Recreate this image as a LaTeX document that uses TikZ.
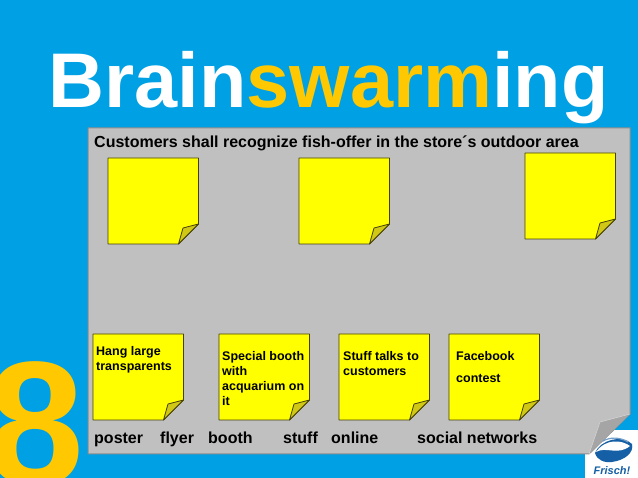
\documentclass[tikz,border=0pt]{standalone}
\usepackage{fontspec}
\setmainfont{Liberation Sans}
\usetikzlibrary{positioning}
\definecolor{slideblue}{RGB}{0,160,228}
\definecolor{titleorange}{RGB}{255,200,0}
\definecolor{panelgray}{RGB}{192,192,192}
\definecolor{paneledge}{RGB}{140,140,140}
\definecolor{foldgray}{RGB}{165,165,165}
\definecolor{notefill}{RGB}{255,255,0}
\definecolor{noteedge}{RGB}{70,65,10}
\definecolor{notefold}{RGB}{208,200,20}
\definecolor{logoblue}{RGB}{20,95,165}
\tikzset{
	title/.style = {anchor=base west, inner sep=0pt, font=\bfseries\fontsize{77.5}{77.5}\selectfont},
	headline/.style = {anchor=base west, inner sep=0pt, font=\bfseries\fontsize{16}{18}\selectfont, text=black},
	channel/.style = {anchor=base west, inner sep=0pt, font=\bfseries\fontsize{16}{18}\selectfont, text=black},
	notetext/.style = {anchor=north west, inner sep=0pt, align=left, font=\bfseries\fontsize{12.5}{15}\selectfont, text=black},
	notesheet/.style = {draw=noteedge, line width=0.9pt, fill=notefill, line join=round},
	noteflap/.style = {draw=noteedge, line width=0.8pt, fill=notefold, line join=round}
}
% one sticky note, top left corner at #1,#2
\newcommand{\stickynote}[2]{
	\draw [notesheet] (#1,#2) -- ++(90.5,0) -- ++(0,66) -- ++(-20,20) -- ++(-70.5,0) -- cycle;
	\draw [noteflap] (#1+70.5,#2+86) -- (#1+90.5,#2+66) -- (#1+75,#2+70) -- cycle;
}
\begin{document}
\begin{tikzpicture}[x=1pt,y=-1pt]
		\useasboundingbox (0,0) rectangle (638,478);
		\fill [slideblue] (0,0) rectangle (638,478);

		%title and number
		\begin{scope}
		\clip (0,0) rectangle (638,478);
		\node (number) [anchor=base west, inner sep=0pt, text=titleorange, font=\bfseries\fontsize{176}{176}\selectfont] at (-14,485) {8};
		\end{scope}
		\node (title) [title, text=white] at (48.5,108) {Brain\textcolor{titleorange}{swarm}ing};

		%panel with curled corner
		\fill [white] (585,430) rectangle (638,478);
		\draw [fill=panelgray, draw=paneledge, line width=1pt] (88,128) -- (630,128) -- (630,414) -- (589,454) -- (88,454) -- cycle;
		\fill [foldgray] (589,454) -- (630,414) -- (600,422) -- cycle;
		\draw [draw=panelgray!70!white, line width=0.6pt] (589,454) -- (600,422) -- (630,414);

		%logo
		\fill [logoblue] (595,453) .. controls (600,440) and (622,434) .. (632,444) .. controls (634,452) and (626,460) .. (612,462) .. controls (604,463) and (597,460) .. (595,453) -- cycle;
		\fill [white] (596,452) .. controls (606,446) and (618,456) .. (630,446) .. controls (622,440) and (606,438) .. (596,452) -- cycle;
		\draw [logoblue!60, line width=1.2pt] (603,441) .. controls (610,437) and (620,437) .. (628,442);
		\node (logo) [anchor=base, inner sep=0pt, text=logoblue, font=\bfseries\itshape\fontsize{11}{11}\selectfont] at (612,475) {Frisch!};

		\node (headline) [headline] at (94,148) {Customers shall recognize fish-offer in the store´s outdoor area};

		%sticky notes
		\foreach \x/\y in {108/158, 299/158, 525/153, 93/334, 219/334, 339/334, 449/334} {
			\stickynote{\x}{\y}
		}

		\node (hang) [notetext] at (96,346) {Hang large\\transparents};
		\node (special) [notetext] at (222,351) {Special booth\\with\\acquarium on\\it};
		\node (stuff) [notetext] at (343,351) {Stuff talks to\\customers};
		\node (facebook) [notetext, font=\bfseries\fontsize{12.5}{22.5}\selectfont] at (456,351) {Facebook\\contest};

		%channels along the bottom
		\node (poster) [channel] at (94,444) {poster};
		\node (flyer) [channel] at (160,444) {flyer};
		\node (booth) [channel] at (208,444) {booth};
		\node (stufflabel) [channel] at (283,444) {stuff};
		\node (online) [channel] at (331,444) {online};
		\node (social) [channel] at (417,444) {social networks};
		\end{tikzpicture}
\end{document}
